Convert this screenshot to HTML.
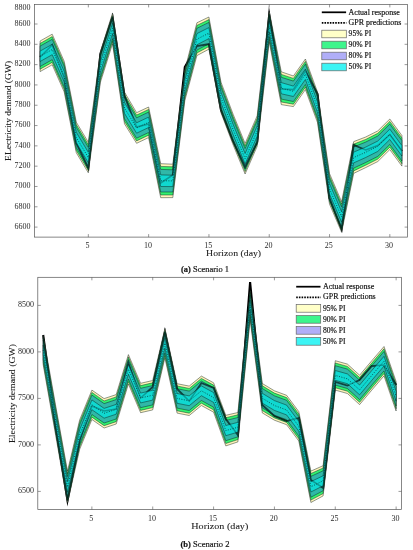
<!DOCTYPE html>
<html lang="en"><head><meta charset="utf-8"><title>GPR prediction intervals</title>
<style>
html,body{margin:0;padding:0;background:#fff}
svg{display:block}
text{font-family:"Liberation Serif","DejaVu Serif",serif;fill:#1a1a1a;stroke:#1a1a1a;stroke-width:0.18px}
.tk{font-size:8px;stroke:none;fill:#2a2a2a}
.lg{font-size:7.6px;fill:#111}
.ax{font-size:9px;stroke-width:0.08px}
.cp{font-size:7.8px;fill:#111}
</style></head><body>
<svg width="413" height="550" viewBox="0 0 413 550">
<rect width="413" height="550" fill="#fff"/>
<clipPath id="ca"><rect x="34.5" y="4.4" width="373.1" height="232.7"/></clipPath>
<g clip-path="url(#ca)">
<polyline points="40.1,57.0 52.2,45.0 64.2,78.0 76.3,143.0 88.3,168.0 100.4,54.0 112.5,17.0 124.5,96.0 136.6,127.0 148.6,124.0 160.7,183.0 172.8,175.0 184.8,67.0 196.9,46.0 208.9,44.0 221.0,110.0 233.1,141.0 245.1,167.0 257.2,142.0 269.2,14.5 281.3,89.0 293.4,89.5 305.4,71.0 317.5,94.0 329.5,198.0 341.6,229.0 353.7,145.0 365.7,150.0 377.8,145.5 389.8,134.5 401.9,151.0" fill="none" stroke="#000" stroke-width="2.1" stroke-linejoin="miter" stroke-miterlimit="10"/>
<clipPath id="ca0"><polygon points="40.1,41.0 52.2,34.2 64.2,61.3 76.3,122.2 88.3,142.2 100.4,51.7 112.5,13.2 124.5,92.1 136.6,112.7 148.6,107.0 160.7,163.7 172.8,164.2 184.8,70.1 196.9,22.8 208.9,17.0 221.0,82.2 233.1,114.2 245.1,143.4 257.2,115.7 269.2,11.2 281.3,71.8 293.4,76.0 305.4,59.0 317.5,92.0 329.5,173.5 341.6,201.7 353.7,141.6 365.7,137.0 377.8,130.9 389.8,119.0 401.9,135.5 401.9,166.1 389.8,149.6 377.8,161.5 365.7,167.6 353.7,173.4 341.6,232.3 329.5,204.1 317.5,122.6 305.4,89.6 293.4,106.6 281.3,104.6 269.2,41.8 257.2,146.3 245.1,174.0 233.1,144.8 221.0,112.8 208.9,49.2 196.9,55.6 184.8,100.7 172.8,197.6 160.7,197.7 148.6,137.6 136.6,143.3 124.5,123.9 112.5,43.8 100.4,82.3 88.3,172.8 76.3,152.8 64.2,91.9 52.2,64.8 40.1,71.6"/></clipPath>
<polygon points="40.1,41.0 52.2,34.2 64.2,61.3 76.3,122.2 88.3,142.2 100.4,51.7 112.5,13.2 124.5,92.1 136.6,112.7 148.6,107.0 160.7,163.7 172.8,164.2 184.8,70.1 196.9,22.8 208.9,17.0 221.0,82.2 233.1,114.2 245.1,143.4 257.2,115.7 269.2,11.2 281.3,71.8 293.4,76.0 305.4,59.0 317.5,92.0 329.5,173.5 341.6,201.7 353.7,141.6 365.7,137.0 377.8,130.9 389.8,119.0 401.9,135.5 401.9,166.1 389.8,149.6 377.8,161.5 365.7,167.6 353.7,173.4 341.6,232.3 329.5,204.1 317.5,122.6 305.4,89.6 293.4,106.6 281.3,104.6 269.2,41.8 257.2,146.3 245.1,174.0 233.1,144.8 221.0,112.8 208.9,49.2 196.9,55.6 184.8,100.7 172.8,197.6 160.7,197.7 148.6,137.6 136.6,143.3 124.5,123.9 112.5,43.8 100.4,82.3 88.3,172.8 76.3,152.8 64.2,91.9 52.2,64.8 40.1,71.6" fill="#fff6bb" stroke="#021512" stroke-width="0.44" stroke-linejoin="miter"/>
<polyline clip-path="url(#ca0)" points="40.1,57.0 52.2,45.0 64.2,78.0 76.3,143.0 88.3,168.0 100.4,54.0 112.5,17.0 124.5,96.0 136.6,127.0 148.6,124.0 160.7,183.0 172.8,175.0 184.8,67.0 196.9,46.0 208.9,44.0 221.0,110.0 233.1,141.0 245.1,167.0 257.2,142.0 269.2,14.5 281.3,89.0 293.4,89.5 305.4,71.0 317.5,94.0 329.5,198.0 341.6,229.0 353.7,145.0 365.7,150.0 377.8,145.5 389.8,134.5 401.9,151.0" fill="none" stroke="#001414" stroke-opacity="0.95" stroke-width="2.1"/>
<clipPath id="ca1"><polygon points="40.1,43.4 52.2,36.6 64.2,63.7 76.3,124.6 88.3,144.6 100.4,54.1 112.5,15.6 124.5,94.6 136.6,115.1 148.6,109.4 160.7,166.4 172.8,166.8 184.8,72.5 196.9,25.4 208.9,19.6 221.0,84.6 233.1,116.6 245.1,145.8 257.2,118.1 269.2,13.6 281.3,74.4 293.4,78.4 305.4,61.4 317.5,94.4 329.5,175.9 341.6,204.1 353.7,144.1 365.7,139.4 377.8,133.3 389.8,121.4 401.9,137.9 401.9,163.7 389.8,147.2 377.8,159.1 365.7,165.2 353.7,170.9 341.6,229.9 329.5,201.7 317.5,120.2 305.4,87.2 293.4,104.2 281.3,102.0 269.2,39.4 257.2,143.9 245.1,171.6 233.1,142.4 221.0,110.4 208.9,46.6 196.9,53.0 184.8,98.3 172.8,195.0 160.7,195.0 148.6,135.2 136.6,140.9 124.5,121.4 112.5,41.4 100.4,79.9 88.3,170.4 76.3,150.4 64.2,89.5 52.2,62.4 40.1,69.2"/></clipPath>
<polygon points="40.1,43.4 52.2,36.6 64.2,63.7 76.3,124.6 88.3,144.6 100.4,54.1 112.5,15.6 124.5,94.6 136.6,115.1 148.6,109.4 160.7,166.4 172.8,166.8 184.8,72.5 196.9,25.4 208.9,19.6 221.0,84.6 233.1,116.6 245.1,145.8 257.2,118.1 269.2,13.6 281.3,74.4 293.4,78.4 305.4,61.4 317.5,94.4 329.5,175.9 341.6,204.1 353.7,144.1 365.7,139.4 377.8,133.3 389.8,121.4 401.9,137.9 401.9,163.7 389.8,147.2 377.8,159.1 365.7,165.2 353.7,170.9 341.6,229.9 329.5,201.7 317.5,120.2 305.4,87.2 293.4,104.2 281.3,102.0 269.2,39.4 257.2,143.9 245.1,171.6 233.1,142.4 221.0,110.4 208.9,46.6 196.9,53.0 184.8,98.3 172.8,195.0 160.7,195.0 148.6,135.2 136.6,140.9 124.5,121.4 112.5,41.4 100.4,79.9 88.3,170.4 76.3,150.4 64.2,89.5 52.2,62.4 40.1,69.2" fill="#33f070" stroke="#021512" stroke-width="0.44" stroke-linejoin="miter"/>
<polyline clip-path="url(#ca1)" points="40.1,57.0 52.2,45.0 64.2,78.0 76.3,143.0 88.3,168.0 100.4,54.0 112.5,17.0 124.5,96.0 136.6,127.0 148.6,124.0 160.7,183.0 172.8,175.0 184.8,67.0 196.9,46.0 208.9,44.0 221.0,110.0 233.1,141.0 245.1,167.0 257.2,142.0 269.2,14.5 281.3,89.0 293.4,89.5 305.4,71.0 317.5,94.0 329.5,198.0 341.6,229.0 353.7,145.0 365.7,150.0 377.8,145.5 389.8,134.5 401.9,151.0" fill="none" stroke="#001414" stroke-opacity="0.85" stroke-width="2.0"/>
<clipPath id="ca2"><polygon points="40.1,46.1 52.2,39.3 64.2,66.4 76.3,127.3 88.3,147.3 100.4,56.8 112.5,18.3 124.5,97.4 136.6,117.8 148.6,112.1 160.7,169.4 172.8,169.8 184.8,75.2 196.9,28.3 208.9,22.4 221.0,87.3 233.1,119.3 245.1,148.5 257.2,120.8 269.2,16.3 281.3,77.3 293.4,81.1 305.4,64.1 317.5,97.1 329.5,178.6 341.6,206.8 353.7,146.9 365.7,142.1 377.8,136.0 389.8,124.1 401.9,140.6 401.9,161.0 389.8,144.5 377.8,156.4 365.7,162.5 353.7,168.1 341.6,227.2 329.5,199.0 317.5,117.5 305.4,84.5 293.4,101.5 281.3,99.1 269.2,36.7 257.2,141.2 245.1,168.9 233.1,139.7 221.0,107.7 208.9,43.8 196.9,50.1 184.8,95.6 172.8,192.0 160.7,192.0 148.6,132.5 136.6,138.2 124.5,118.6 112.5,38.7 100.4,77.2 88.3,167.7 76.3,147.7 64.2,86.8 52.2,59.7 40.1,66.5"/></clipPath>
<polygon points="40.1,46.1 52.2,39.3 64.2,66.4 76.3,127.3 88.3,147.3 100.4,56.8 112.5,18.3 124.5,97.4 136.6,117.8 148.6,112.1 160.7,169.4 172.8,169.8 184.8,75.2 196.9,28.3 208.9,22.4 221.0,87.3 233.1,119.3 245.1,148.5 257.2,120.8 269.2,16.3 281.3,77.3 293.4,81.1 305.4,64.1 317.5,97.1 329.5,178.6 341.6,206.8 353.7,146.9 365.7,142.1 377.8,136.0 389.8,124.1 401.9,140.6 401.9,161.0 389.8,144.5 377.8,156.4 365.7,162.5 353.7,168.1 341.6,227.2 329.5,199.0 317.5,117.5 305.4,84.5 293.4,101.5 281.3,99.1 269.2,36.7 257.2,141.2 245.1,168.9 233.1,139.7 221.0,107.7 208.9,43.8 196.9,50.1 184.8,95.6 172.8,192.0 160.7,192.0 148.6,132.5 136.6,138.2 124.5,118.6 112.5,38.7 100.4,77.2 88.3,167.7 76.3,147.7 64.2,86.8 52.2,59.7 40.1,66.5" fill="#30b8a8" stroke="#021512" stroke-width="0.44" stroke-linejoin="miter"/>
<polyline clip-path="url(#ca2)" points="40.1,57.0 52.2,45.0 64.2,78.0 76.3,143.0 88.3,168.0 100.4,54.0 112.5,17.0 124.5,96.0 136.6,127.0 148.6,124.0 160.7,183.0 172.8,175.0 184.8,67.0 196.9,46.0 208.9,44.0 221.0,110.0 233.1,141.0 245.1,167.0 257.2,142.0 269.2,14.5 281.3,89.0 293.4,89.5 305.4,71.0 317.5,94.0 329.5,198.0 341.6,229.0 353.7,145.0 365.7,150.0 377.8,145.5 389.8,134.5 401.9,151.0" fill="none" stroke="#001414" stroke-opacity="0.7" stroke-width="1.8"/>
<clipPath id="ca3"><polygon points="40.1,51.1 52.2,44.3 64.2,71.4 76.3,132.3 88.3,152.3 100.4,61.8 112.5,23.3 124.5,102.6 136.6,122.8 148.6,117.1 160.7,174.9 172.8,175.2 184.8,80.2 196.9,33.6 208.9,27.6 221.0,92.3 233.1,124.3 245.1,153.5 257.2,125.8 269.2,21.3 281.3,82.6 293.4,86.1 305.4,69.1 317.5,102.1 329.5,183.6 341.6,211.8 353.7,152.1 365.7,147.1 377.8,141.0 389.8,129.1 401.9,145.6 401.9,156.0 389.8,139.5 377.8,151.4 365.7,157.5 353.7,162.9 341.6,222.2 329.5,194.0 317.5,112.5 305.4,79.5 293.4,96.5 281.3,93.8 269.2,31.7 257.2,136.2 245.1,163.9 233.1,134.7 221.0,102.7 208.9,38.6 196.9,44.8 184.8,90.6 172.8,186.6 160.7,186.5 148.6,127.5 136.6,133.2 124.5,113.4 112.5,33.7 100.4,72.2 88.3,162.7 76.3,142.7 64.2,81.8 52.2,54.7 40.1,61.5"/></clipPath>
<polygon points="40.1,51.1 52.2,44.3 64.2,71.4 76.3,132.3 88.3,152.3 100.4,61.8 112.5,23.3 124.5,102.6 136.6,122.8 148.6,117.1 160.7,174.9 172.8,175.2 184.8,80.2 196.9,33.6 208.9,27.6 221.0,92.3 233.1,124.3 245.1,153.5 257.2,125.8 269.2,21.3 281.3,82.6 293.4,86.1 305.4,69.1 317.5,102.1 329.5,183.6 341.6,211.8 353.7,152.1 365.7,147.1 377.8,141.0 389.8,129.1 401.9,145.6 401.9,156.0 389.8,139.5 377.8,151.4 365.7,157.5 353.7,162.9 341.6,222.2 329.5,194.0 317.5,112.5 305.4,79.5 293.4,96.5 281.3,93.8 269.2,31.7 257.2,136.2 245.1,163.9 233.1,134.7 221.0,102.7 208.9,38.6 196.9,44.8 184.8,90.6 172.8,186.6 160.7,186.5 148.6,127.5 136.6,133.2 124.5,113.4 112.5,33.7 100.4,72.2 88.3,162.7 76.3,142.7 64.2,81.8 52.2,54.7 40.1,61.5" fill="#10d8d0" stroke="#021512" stroke-width="0.44" stroke-linejoin="miter"/>
<polyline clip-path="url(#ca3)" points="40.1,57.0 52.2,45.0 64.2,78.0 76.3,143.0 88.3,168.0 100.4,54.0 112.5,17.0 124.5,96.0 136.6,127.0 148.6,124.0 160.7,183.0 172.8,175.0 184.8,67.0 196.9,46.0 208.9,44.0 221.0,110.0 233.1,141.0 245.1,167.0 257.2,142.0 269.2,14.5 281.3,89.0 293.4,89.5 305.4,71.0 317.5,94.0 329.5,198.0 341.6,229.0 353.7,145.0 365.7,150.0 377.8,145.5 389.8,134.5 401.9,151.0" fill="none" stroke="#001414" stroke-opacity="0.3" stroke-width="1.5"/>
<polyline points="40.1,56.3 52.2,49.5 64.2,76.6 76.3,137.5 88.3,157.5 100.4,67.0 112.5,28.5 124.5,108.0 136.6,128.0 148.6,122.3 160.7,180.7 172.8,180.9 184.8,85.4 196.9,39.2 208.9,33.1 221.0,97.5 233.1,129.5 245.1,158.7 257.2,131.0 269.2,26.5 281.3,88.2 293.4,91.3 305.4,74.3 317.5,107.3 329.5,188.8 341.6,217.0 353.7,157.5 365.7,152.3 377.8,146.2 389.8,134.3 401.9,150.8" fill="none" stroke="#043c3c" stroke-opacity="0.85" stroke-width="0.95" stroke-dasharray="1.0 1.5"/>
</g>
<rect x="34.5" y="4.4" width="373.1" height="232.7" fill="none" stroke="#555" stroke-width="0.7"/>
<text x="30.5" y="9.7" text-anchor="end" class="tk">8800</text>
<path d="M34.5 24.0h3M407.6 24.0h-3" stroke="#555" stroke-width="0.6"/>
<text x="30.5" y="25.7" text-anchor="end" class="tk">8600</text>
<path d="M34.5 44.31h3M407.6 44.31h-3" stroke="#555" stroke-width="0.6"/>
<text x="30.5" y="46.0" text-anchor="end" class="tk">8400</text>
<path d="M34.5 64.62h3M407.6 64.62h-3" stroke="#555" stroke-width="0.6"/>
<text x="30.5" y="66.3" text-anchor="end" class="tk">8200</text>
<path d="M34.5 84.92999999999999h3M407.6 84.92999999999999h-3" stroke="#555" stroke-width="0.6"/>
<text x="30.5" y="86.6" text-anchor="end" class="tk">8000</text>
<path d="M34.5 105.24h3M407.6 105.24h-3" stroke="#555" stroke-width="0.6"/>
<text x="30.5" y="106.9" text-anchor="end" class="tk">7800</text>
<path d="M34.5 125.55h3M407.6 125.55h-3" stroke="#555" stroke-width="0.6"/>
<text x="30.5" y="127.2" text-anchor="end" class="tk">7600</text>
<path d="M34.5 145.85999999999999h3M407.6 145.85999999999999h-3" stroke="#555" stroke-width="0.6"/>
<text x="30.5" y="147.6" text-anchor="end" class="tk">7400</text>
<path d="M34.5 166.17h3M407.6 166.17h-3" stroke="#555" stroke-width="0.6"/>
<text x="30.5" y="167.9" text-anchor="end" class="tk">7200</text>
<path d="M34.5 186.48h3M407.6 186.48h-3" stroke="#555" stroke-width="0.6"/>
<text x="30.5" y="188.2" text-anchor="end" class="tk">7000</text>
<path d="M34.5 206.79h3M407.6 206.79h-3" stroke="#555" stroke-width="0.6"/>
<text x="30.5" y="208.5" text-anchor="end" class="tk">6800</text>
<path d="M34.5 227.1h3M407.6 227.1h-3" stroke="#555" stroke-width="0.6"/>
<text x="30.5" y="228.8" text-anchor="end" class="tk">6600</text>
<path d="M88.34 237.1v-3M88.34 4.4v3" stroke="#555" stroke-width="0.6"/>
<text x="87.6" y="248.1" text-anchor="middle" class="tk">5</text>
<path d="M148.64000000000001 237.1v-3M148.64000000000001 4.4v3" stroke="#555" stroke-width="0.6"/>
<text x="147.9" y="248.1" text-anchor="middle" class="tk">10</text>
<path d="M208.94 237.1v-3M208.94 4.4v3" stroke="#555" stroke-width="0.6"/>
<text x="208.2" y="248.1" text-anchor="middle" class="tk">15</text>
<path d="M269.24 237.1v-3M269.24 4.4v3" stroke="#555" stroke-width="0.6"/>
<text x="268.5" y="248.1" text-anchor="middle" class="tk">20</text>
<path d="M329.54 237.1v-3M329.54 4.4v3" stroke="#555" stroke-width="0.6"/>
<text x="328.8" y="248.1" text-anchor="middle" class="tk">25</text>
<path d="M389.84000000000003 237.1v-3M389.84000000000003 4.4v3" stroke="#555" stroke-width="0.6"/>
<text x="389.1" y="248.1" text-anchor="middle" class="tk">30</text>
<clipPath id="cb"><rect x="37.8" y="277.3" width="363.7" height="232.2"/></clipPath>
<g clip-path="url(#cb)">
<polyline points="43.2,335.0 55.4,425.0 67.5,500.5 79.7,440.0 91.9,406.0 104.1,411.0 116.2,409.0 128.4,363.0 140.6,398.0 152.7,387.0 164.9,332.0 177.1,389.0 189.2,401.0 201.4,383.0 213.6,388.0 225.8,419.0 237.9,435.0 250.1,282.0 262.3,405.0 274.4,416.0 286.6,421.0 298.8,418.0 310.9,480.0 323.1,488.0 335.3,382.0 347.4,385.5 359.6,380.0 371.8,366.0 384.0,365.0 396.1,385.0" fill="none" stroke="#000" stroke-width="2.1" stroke-linejoin="miter" stroke-miterlimit="10"/>
<clipPath id="cb0"><polygon points="43.2,335.3 55.4,404.3 67.5,471.1 79.7,419.8 91.9,390.1 104.1,398.6 116.2,394.6 128.4,354.6 140.6,383.3 152.7,380.5 164.9,328.5 177.1,383.7 189.2,386.1 201.4,376.1 213.6,382.8 225.8,415.3 237.9,412.5 250.1,290.3 262.3,383.5 274.4,390.8 286.6,395.3 298.8,411.6 310.9,471.1 323.1,465.7 335.3,360.7 347.4,364.1 359.6,375.2 371.8,360.7 384.0,346.5 396.1,381.6 396.1,411.0 384.0,375.9 371.8,390.1 359.6,404.6 347.4,393.5 335.3,390.1 323.1,495.9 310.9,502.5 298.8,441.0 286.6,424.7 274.4,420.2 262.3,412.9 250.1,319.7 237.9,441.9 225.8,445.9 213.6,412.2 201.4,405.5 189.2,415.5 177.1,413.1 164.9,357.9 152.7,409.9 140.6,412.7 128.4,384.0 116.2,424.0 104.1,428.0 91.9,419.5 79.7,449.2 67.5,502.9 55.4,433.7 43.2,364.7"/></clipPath>
<polygon points="43.2,335.3 55.4,404.3 67.5,471.1 79.7,419.8 91.9,390.1 104.1,398.6 116.2,394.6 128.4,354.6 140.6,383.3 152.7,380.5 164.9,328.5 177.1,383.7 189.2,386.1 201.4,376.1 213.6,382.8 225.8,415.3 237.9,412.5 250.1,290.3 262.3,383.5 274.4,390.8 286.6,395.3 298.8,411.6 310.9,471.1 323.1,465.7 335.3,360.7 347.4,364.1 359.6,375.2 371.8,360.7 384.0,346.5 396.1,381.6 396.1,411.0 384.0,375.9 371.8,390.1 359.6,404.6 347.4,393.5 335.3,390.1 323.1,495.9 310.9,502.5 298.8,441.0 286.6,424.7 274.4,420.2 262.3,412.9 250.1,319.7 237.9,441.9 225.8,445.9 213.6,412.2 201.4,405.5 189.2,415.5 177.1,413.1 164.9,357.9 152.7,409.9 140.6,412.7 128.4,384.0 116.2,424.0 104.1,428.0 91.9,419.5 79.7,449.2 67.5,502.9 55.4,433.7 43.2,364.7" fill="#fff6bb" stroke="#021512" stroke-width="0.44" stroke-linejoin="miter"/>
<polyline clip-path="url(#cb0)" points="43.2,335.0 55.4,425.0 67.5,500.5 79.7,440.0 91.9,406.0 104.1,411.0 116.2,409.0 128.4,363.0 140.6,398.0 152.7,387.0 164.9,332.0 177.1,389.0 189.2,401.0 201.4,383.0 213.6,388.0 225.8,419.0 237.9,435.0 250.1,282.0 262.3,405.0 274.4,416.0 286.6,421.0 298.8,418.0 310.9,480.0 323.1,488.0 335.3,382.0 347.4,385.5 359.6,380.0 371.8,366.0 384.0,365.0 396.1,385.0" fill="none" stroke="#001414" stroke-opacity="0.95" stroke-width="2.1"/>
<clipPath id="cb1"><polygon points="43.2,337.6 55.4,406.6 67.5,473.6 79.7,422.1 91.9,392.4 104.1,400.9 116.2,396.9 128.4,356.9 140.6,385.6 152.7,382.8 164.9,330.8 177.1,386.0 189.2,388.4 201.4,378.4 213.6,385.1 225.8,417.7 237.9,414.8 250.1,292.6 262.3,385.8 274.4,393.1 286.6,397.6 298.8,413.9 310.9,473.5 323.1,468.0 335.3,363.0 347.4,366.4 359.6,377.5 371.8,363.0 384.0,348.8 396.1,383.9 396.1,408.7 384.0,373.6 371.8,387.8 359.6,402.3 347.4,391.2 335.3,387.8 323.1,493.6 310.9,500.1 298.8,438.7 286.6,422.4 274.4,417.9 262.3,410.6 250.1,317.4 237.9,439.6 225.8,443.5 213.6,409.9 201.4,403.2 189.2,413.2 177.1,410.8 164.9,355.6 152.7,407.6 140.6,410.4 128.4,381.7 116.2,421.7 104.1,425.7 91.9,417.2 79.7,446.9 67.5,500.4 55.4,431.4 43.2,362.4"/></clipPath>
<polygon points="43.2,337.6 55.4,406.6 67.5,473.6 79.7,422.1 91.9,392.4 104.1,400.9 116.2,396.9 128.4,356.9 140.6,385.6 152.7,382.8 164.9,330.8 177.1,386.0 189.2,388.4 201.4,378.4 213.6,385.1 225.8,417.7 237.9,414.8 250.1,292.6 262.3,385.8 274.4,393.1 286.6,397.6 298.8,413.9 310.9,473.5 323.1,468.0 335.3,363.0 347.4,366.4 359.6,377.5 371.8,363.0 384.0,348.8 396.1,383.9 396.1,408.7 384.0,373.6 371.8,387.8 359.6,402.3 347.4,391.2 335.3,387.8 323.1,493.6 310.9,500.1 298.8,438.7 286.6,422.4 274.4,417.9 262.3,410.6 250.1,317.4 237.9,439.6 225.8,443.5 213.6,409.9 201.4,403.2 189.2,413.2 177.1,410.8 164.9,355.6 152.7,407.6 140.6,410.4 128.4,381.7 116.2,421.7 104.1,425.7 91.9,417.2 79.7,446.9 67.5,500.4 55.4,431.4 43.2,362.4" fill="#33f070" stroke="#021512" stroke-width="0.44" stroke-linejoin="miter"/>
<polyline clip-path="url(#cb1)" points="43.2,335.0 55.4,425.0 67.5,500.5 79.7,440.0 91.9,406.0 104.1,411.0 116.2,409.0 128.4,363.0 140.6,398.0 152.7,387.0 164.9,332.0 177.1,389.0 189.2,401.0 201.4,383.0 213.6,388.0 225.8,419.0 237.9,435.0 250.1,282.0 262.3,405.0 274.4,416.0 286.6,421.0 298.8,418.0 310.9,480.0 323.1,488.0 335.3,382.0 347.4,385.5 359.6,380.0 371.8,366.0 384.0,365.0 396.1,385.0" fill="none" stroke="#001414" stroke-opacity="0.85" stroke-width="2.0"/>
<clipPath id="cb2"><polygon points="43.2,340.3 55.4,409.3 67.5,476.5 79.7,424.8 91.9,395.1 104.1,403.6 116.2,399.6 128.4,359.6 140.6,388.3 152.7,385.5 164.9,333.5 177.1,388.7 189.2,391.1 201.4,381.1 213.6,387.8 225.8,420.5 237.9,417.5 250.1,295.3 262.3,388.5 274.4,395.8 286.6,400.3 298.8,416.6 310.9,476.4 323.1,470.8 335.3,365.7 347.4,369.1 359.6,380.2 371.8,365.7 384.0,351.5 396.1,386.6 396.1,406.0 384.0,370.9 371.8,385.1 359.6,399.6 347.4,388.5 335.3,385.1 323.1,490.8 310.9,497.2 298.8,436.0 286.6,419.7 274.4,415.2 262.3,407.9 250.1,314.7 237.9,436.9 225.8,440.7 213.6,407.2 201.4,400.5 189.2,410.5 177.1,408.1 164.9,352.9 152.7,404.9 140.6,407.7 128.4,379.0 116.2,419.0 104.1,423.0 91.9,414.5 79.7,444.2 67.5,497.5 55.4,428.7 43.2,359.7"/></clipPath>
<polygon points="43.2,340.3 55.4,409.3 67.5,476.5 79.7,424.8 91.9,395.1 104.1,403.6 116.2,399.6 128.4,359.6 140.6,388.3 152.7,385.5 164.9,333.5 177.1,388.7 189.2,391.1 201.4,381.1 213.6,387.8 225.8,420.5 237.9,417.5 250.1,295.3 262.3,388.5 274.4,395.8 286.6,400.3 298.8,416.6 310.9,476.4 323.1,470.8 335.3,365.7 347.4,369.1 359.6,380.2 371.8,365.7 384.0,351.5 396.1,386.6 396.1,406.0 384.0,370.9 371.8,385.1 359.6,399.6 347.4,388.5 335.3,385.1 323.1,490.8 310.9,497.2 298.8,436.0 286.6,419.7 274.4,415.2 262.3,407.9 250.1,314.7 237.9,436.9 225.8,440.7 213.6,407.2 201.4,400.5 189.2,410.5 177.1,408.1 164.9,352.9 152.7,404.9 140.6,407.7 128.4,379.0 116.2,419.0 104.1,423.0 91.9,414.5 79.7,444.2 67.5,497.5 55.4,428.7 43.2,359.7" fill="#30b8a8" stroke="#021512" stroke-width="0.44" stroke-linejoin="miter"/>
<polyline clip-path="url(#cb2)" points="43.2,335.0 55.4,425.0 67.5,500.5 79.7,440.0 91.9,406.0 104.1,411.0 116.2,409.0 128.4,363.0 140.6,398.0 152.7,387.0 164.9,332.0 177.1,389.0 189.2,401.0 201.4,383.0 213.6,388.0 225.8,419.0 237.9,435.0 250.1,282.0 262.3,405.0 274.4,416.0 286.6,421.0 298.8,418.0 310.9,480.0 323.1,488.0 335.3,382.0 347.4,385.5 359.6,380.0 371.8,366.0 384.0,365.0 396.1,385.0" fill="none" stroke="#001414" stroke-opacity="0.7" stroke-width="1.8"/>
<clipPath id="cb3"><polygon points="43.2,345.1 55.4,414.1 67.5,481.7 79.7,429.6 91.9,399.9 104.1,408.4 116.2,404.4 128.4,364.4 140.6,393.1 152.7,390.3 164.9,338.3 177.1,393.5 189.2,395.9 201.4,385.9 213.6,392.6 225.8,425.5 237.9,422.3 250.1,300.1 262.3,393.3 274.4,400.6 286.6,405.1 298.8,421.4 310.9,481.6 323.1,475.8 335.3,370.5 347.4,373.9 359.6,385.0 371.8,370.5 384.0,356.3 396.1,391.4 396.1,401.2 384.0,366.1 371.8,380.3 359.6,394.8 347.4,383.7 335.3,380.3 323.1,485.8 310.9,492.0 298.8,431.2 286.6,414.9 274.4,410.4 262.3,403.1 250.1,309.9 237.9,432.1 225.8,435.7 213.6,402.4 201.4,395.7 189.2,405.7 177.1,403.3 164.9,348.1 152.7,400.1 140.6,402.9 128.4,374.2 116.2,414.2 104.1,418.2 91.9,409.7 79.7,439.4 67.5,492.3 55.4,423.9 43.2,354.9"/></clipPath>
<polygon points="43.2,345.1 55.4,414.1 67.5,481.7 79.7,429.6 91.9,399.9 104.1,408.4 116.2,404.4 128.4,364.4 140.6,393.1 152.7,390.3 164.9,338.3 177.1,393.5 189.2,395.9 201.4,385.9 213.6,392.6 225.8,425.5 237.9,422.3 250.1,300.1 262.3,393.3 274.4,400.6 286.6,405.1 298.8,421.4 310.9,481.6 323.1,475.8 335.3,370.5 347.4,373.9 359.6,385.0 371.8,370.5 384.0,356.3 396.1,391.4 396.1,401.2 384.0,366.1 371.8,380.3 359.6,394.8 347.4,383.7 335.3,380.3 323.1,485.8 310.9,492.0 298.8,431.2 286.6,414.9 274.4,410.4 262.3,403.1 250.1,309.9 237.9,432.1 225.8,435.7 213.6,402.4 201.4,395.7 189.2,405.7 177.1,403.3 164.9,348.1 152.7,400.1 140.6,402.9 128.4,374.2 116.2,414.2 104.1,418.2 91.9,409.7 79.7,439.4 67.5,492.3 55.4,423.9 43.2,354.9" fill="#10d8d0" stroke="#021512" stroke-width="0.44" stroke-linejoin="miter"/>
<polyline clip-path="url(#cb3)" points="43.2,335.0 55.4,425.0 67.5,500.5 79.7,440.0 91.9,406.0 104.1,411.0 116.2,409.0 128.4,363.0 140.6,398.0 152.7,387.0 164.9,332.0 177.1,389.0 189.2,401.0 201.4,383.0 213.6,388.0 225.8,419.0 237.9,435.0 250.1,282.0 262.3,405.0 274.4,416.0 286.6,421.0 298.8,418.0 310.9,480.0 323.1,488.0 335.3,382.0 347.4,385.5 359.6,380.0 371.8,366.0 384.0,365.0 396.1,385.0" fill="none" stroke="#001414" stroke-opacity="0.3" stroke-width="1.5"/>
<polyline points="43.2,350.0 55.4,419.0 67.5,487.0 79.7,434.5 91.9,404.8 104.1,413.3 116.2,409.3 128.4,369.3 140.6,398.0 152.7,395.2 164.9,343.2 177.1,398.4 189.2,400.8 201.4,390.8 213.6,397.5 225.8,430.6 237.9,427.2 250.1,305.0 262.3,398.2 274.4,405.5 286.6,410.0 298.8,426.3 310.9,486.8 323.1,480.8 335.3,375.4 347.4,378.8 359.6,389.9 371.8,375.4 384.0,361.2 396.1,396.3" fill="none" stroke="#043c3c" stroke-opacity="0.85" stroke-width="0.95" stroke-dasharray="1.0 1.5"/>
</g>
<rect x="37.8" y="277.3" width="363.7" height="232.2" fill="none" stroke="#555" stroke-width="0.7"/>
<path d="M37.8 305.4h3M401.5 305.4h-3" stroke="#555" stroke-width="0.6"/>
<text x="33.9" y="307.1" text-anchor="end" class="tk">8500</text>
<path d="M37.8 351.9h3M401.5 351.9h-3" stroke="#555" stroke-width="0.6"/>
<text x="33.9" y="353.6" text-anchor="end" class="tk">8000</text>
<path d="M37.8 398.4h3M401.5 398.4h-3" stroke="#555" stroke-width="0.6"/>
<text x="33.9" y="400.1" text-anchor="end" class="tk">7500</text>
<path d="M37.8 444.9h3M401.5 444.9h-3" stroke="#555" stroke-width="0.6"/>
<text x="33.9" y="446.6" text-anchor="end" class="tk">7000</text>
<path d="M37.8 491.4h3M401.5 491.4h-3" stroke="#555" stroke-width="0.6"/>
<text x="33.9" y="493.1" text-anchor="end" class="tk">6500</text>
<path d="M91.88 509.5v-3M91.88 277.3v3" stroke="#555" stroke-width="0.6"/>
<text x="91.2" y="520.5" text-anchor="middle" class="tk">5</text>
<path d="M152.73000000000002 509.5v-3M152.73000000000002 277.3v3" stroke="#555" stroke-width="0.6"/>
<text x="152.0" y="520.5" text-anchor="middle" class="tk">10</text>
<path d="M213.57999999999998 509.5v-3M213.57999999999998 277.3v3" stroke="#555" stroke-width="0.6"/>
<text x="212.9" y="520.5" text-anchor="middle" class="tk">15</text>
<path d="M274.43 509.5v-3M274.43 277.3v3" stroke="#555" stroke-width="0.6"/>
<text x="273.7" y="520.5" text-anchor="middle" class="tk">20</text>
<path d="M335.28 509.5v-3M335.28 277.3v3" stroke="#555" stroke-width="0.6"/>
<text x="334.6" y="520.5" text-anchor="middle" class="tk">25</text>
<path d="M396.13 509.5v-3M396.13 277.3v3" stroke="#555" stroke-width="0.6"/>
<text x="395.4" y="520.5" text-anchor="middle" class="tk">30</text>
<path d="M321.8 12.3h24.3" stroke="#000" stroke-width="1.75"/>
<path d="M321.8 22.9h24.6" stroke="#000" stroke-width="1.85" stroke-dasharray="1.6 1.08"/>
<text x="348.6" y="14.5" class="lg" textLength="51.2" lengthAdjust="spacingAndGlyphs">Actual response</text>
<text x="348.6" y="24.9" class="lg" textLength="52.7" lengthAdjust="spacingAndGlyphs">GPR predictions</text>
<rect x="321.8" y="30.2" width="24.5" height="7.6" fill="#ffffc8" stroke="#666" stroke-width="0.7"/>
<text x="348.6" y="36.2" class="lg">95% PI</text>
<rect x="321.8" y="41.2" width="24.5" height="7.6" fill="#3df58c" stroke="#666" stroke-width="0.7"/>
<text x="348.6" y="47.2" class="lg">90% PI</text>
<rect x="321.8" y="52.2" width="24.5" height="7.6" fill="#b0aef8" stroke="#666" stroke-width="0.7"/>
<text x="348.6" y="58.2" class="lg">80% PI</text>
<rect x="321.8" y="63.2" width="24.5" height="7.6" fill="#3cf4f4" stroke="#666" stroke-width="0.7"/>
<text x="348.6" y="69.2" class="lg">50% PI</text>
<path d="M296.2 286.7h24.3" stroke="#000" stroke-width="1.75"/>
<path d="M296.2 297.29999999999995h24.6" stroke="#000" stroke-width="1.85" stroke-dasharray="1.6 1.08"/>
<text x="323.0" y="288.9" class="lg" textLength="51.2" lengthAdjust="spacingAndGlyphs">Actual response</text>
<text x="323.0" y="299.29999999999995" class="lg" textLength="52.7" lengthAdjust="spacingAndGlyphs">GPR predictions</text>
<rect x="296.2" y="304.59999999999997" width="24.5" height="7.6" fill="#ffffc8" stroke="#666" stroke-width="0.7"/>
<text x="323.0" y="310.59999999999997" class="lg">95% PI</text>
<rect x="296.2" y="315.59999999999997" width="24.5" height="7.6" fill="#3df58c" stroke="#666" stroke-width="0.7"/>
<text x="323.0" y="321.59999999999997" class="lg">90% PI</text>
<rect x="296.2" y="326.59999999999997" width="24.5" height="7.6" fill="#b0aef8" stroke="#666" stroke-width="0.7"/>
<text x="323.0" y="332.59999999999997" class="lg">80% PI</text>
<rect x="296.2" y="337.59999999999997" width="24.5" height="7.6" fill="#3cf4f4" stroke="#666" stroke-width="0.7"/>
<text x="323.0" y="343.59999999999997" class="lg">50% PI</text>
<text x="233.6" y="255.6" text-anchor="middle" class="ax" textLength="55" lengthAdjust="spacingAndGlyphs">Horizon (day)</text>
<text x="219.8" y="529" text-anchor="middle" class="ax" textLength="57" lengthAdjust="spacingAndGlyphs">Horizon (day)</text>
<text transform="translate(11.2 110.9) rotate(-90)" text-anchor="middle" class="ax" textLength="100" lengthAdjust="spacingAndGlyphs">ELectricity demand (GW)</text>
<text transform="translate(15.3 393.6) rotate(-90)" text-anchor="middle" class="ax" textLength="99" lengthAdjust="spacingAndGlyphs">Electricity demand (GW)</text>
<text x="205" y="271.6" text-anchor="middle" class="cp" textLength="48" lengthAdjust="spacingAndGlyphs"><tspan font-weight="bold">(a)</tspan> Scenario 1</text>
<text x="205" y="546.6" text-anchor="middle" class="cp" textLength="49" lengthAdjust="spacingAndGlyphs"><tspan font-weight="bold">(b)</tspan> Scenario 2</text>
</svg>
</body></html>
